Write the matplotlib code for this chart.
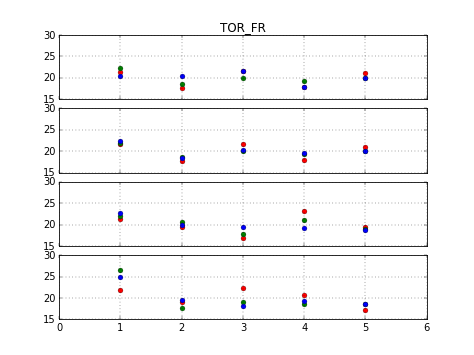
import numpy as np
import matplotlib
matplotlib.use('Agg')
import matplotlib.pyplot as plt

plt.style.use('classic')

################################################################################

x = [1, 2, 3, 4, 5]

# une liste par panneau : rouge, vert, bleu
rouge = [
    [21.5, 17.7, 21.6, 18.0, 21.1],
    [21.6, 17.8, 21.8, 18.0, 21.1],
    [21.3, 19.5, 16.8, 23.2, 19.5],
    [21.8, 19.1, 22.3, 20.6, 17.1],
]
vert = [
    [22.3, 18.5, 19.9, 19.3, 20.0],
    [22.0, 18.7, 20.1, 19.4, 20.0],
    [22.0, 20.7, 17.9, 21.0, 19.0],
    [26.5, 17.6, 19.1, 18.7, 18.5],
]
bleu = [
    [20.4, 20.5, 21.6, 17.9, 19.9],
    [22.3, 18.4, 20.2, 19.6, 20.0],
    [22.7, 20.0, 19.5, 19.3, 18.7],
    [25.0, 19.6, 18.2, 19.2, 18.5],
]

titre = "TOR_FR"
yticks = [15, 20, 25, 30]
xticks = [0, 1, 2, 3, 4, 5, 6]

#------------------------------------------------------------------------------>

fig, axes = plt.subplots(4, 1, sharex=True, figsize=(8, 6), dpi=59.25)
fig.subplots_adjust(hspace=0.14)

for i, ax in enumerate(axes):
    ax.plot(x, rouge[i], 'ro', markersize=6, markeredgewidth=0.3)
    ax.plot(x, vert[i], 'go', markersize=6, markeredgewidth=0.3)
    ax.plot(x, bleu[i], 'bo', markersize=6, markeredgewidth=0.3)
    ax.set_ylim(15, 30)
    ax.set_yticks(yticks)
    ax.set_xlim(0, 6)
    ax.set_xticks(xticks)
    ax.grid(True)

axes[0].set_title(titre)

fig.savefig('out.png', dpi=59.25)
